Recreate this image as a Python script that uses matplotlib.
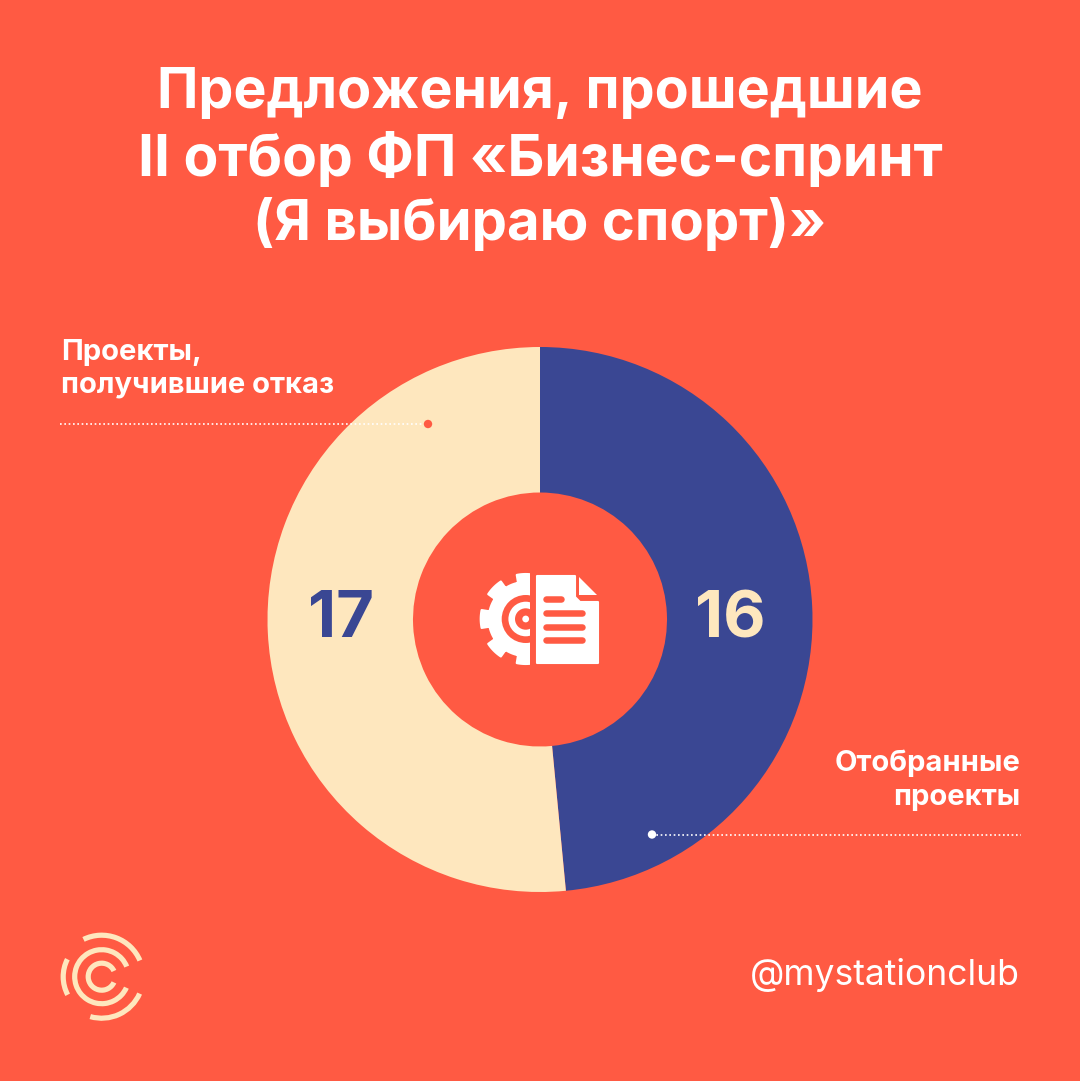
import numpy as np
import matplotlib
matplotlib.use("Agg")
import matplotlib.pyplot as plt
from matplotlib.patches import Circle, Polygon, Rectangle, Wedge

BG = "#ff5a43"
NAVY = "#3a4793"
CREAM = "#fee7be"
WHITE = "#ffffff"

labels = ["Отобранные проекты", "Проекты, получившие отказ"]
values = [16, 17]
title_lines = ["Предложения, прошедшие", "II отбор ФП «Бизнес-спринт", "(Я выбираю спорт)»"]

plt.rcParams["font.family"] = ["Inter", "Noto Sans", "DejaVu Sans"]

fig = plt.figure(figsize=(10.8, 10.81), dpi=100, facecolor=BG)
ax = fig.add_axes([0, 0, 1, 1])


def Y(py):
    # picture rows run downwards
    return 1081 - py


ax.pie(values, colors=[NAVY, CREAM], startangle=90, counterclock=False,
       center=(540, Y(619.5)), radius=272.5, wedgeprops=dict(width=145.5, linewidth=0),
       frame=True)
ax.set_xlim(0, 1080)
ax.set_ylim(0, 1081)
ax.set_aspect("auto")
ax.axis("off")

# title
for line, size, base in zip(title_lines, [40, 41, 40.5], [108, 176, 240]):
    ax.text(540, Y(base), line, color=WHITE, fontsize=size, fontweight="bold",
            ha="center", va="baseline")

# values
ax.text(341, Y(637), str(values[1]), color=NAVY, fontsize=47, fontweight="bold",
        ha="center", va="baseline")
ax.text(730, Y(637), str(values[0]), color=CREAM, fontsize=47, fontweight="bold",
        ha="center", va="baseline")

# callouts
ax.text(61, Y(360), "Проекты,", color=WHITE, fontsize=21, fontweight="bold", va="baseline")
ax.text(61, Y(393), "получившие отказ", color=WHITE, fontsize=21, fontweight="bold", va="baseline")
ax.text(1020, Y(771), "Отобранные", color=WHITE, fontsize=21, fontweight="bold", ha="right", va="baseline")
ax.text(1020, Y(805), "проекты", color=WHITE, fontsize=21, fontweight="bold", ha="right", va="baseline")

ax.plot([60, 428], [Y(424), Y(424)], color=WHITE, lw=1.2, ls=(0, (1, 1.6)), zorder=5)
ax.add_patch(Circle((428, Y(424)), 4.2, color=BG, lw=0, zorder=6))
ax.plot([652, 1021], [Y(834.5), Y(834.5)], color=WHITE, lw=1.2, ls=(0, (1, 1.6)), zorder=5)
ax.add_patch(Circle((652, Y(834.5)), 4.2, color=WHITE, lw=0, zorder=6))

ax.text(1020, Y(985), "@mystationclub", color=WHITE, fontsize=25.6, ha="right", va="baseline")

# logo
logo_c = (101.7, Y(976.7))
for r, a1, a2 in [(13.5, 25, 335), (27, 22, 336), (41.5, 23, 116), (38.5, 153, 208), (41.5, 254, 336)]:
    ax.add_patch(Wedge(logo_c, r + 2.6, a1, a2, width=5.2, color=CREAM, lw=0))

# icon: half gear
gear_c = (525.7, Y(619))
clip = Rectangle((470, Y(670)), 4 + 55.7, 100, transform=ax.transData)
angs = np.arange(0, 360, 0.5)
rad = np.full(angs.shape, 37.0)
for t in range(0, 360, 45):
    d = np.abs((angs - t + 180) % 360 - 180)
    rad[d < 12] = 45
gear = Polygon(np.c_[gear_c[0] + rad * np.cos(np.radians(angs)), gear_c[1] + rad * np.sin(np.radians(angs))],
               facecolor=WHITE, edgecolor=WHITE, lw=1.5, joinstyle="round", zorder=3)
ax.add_patch(gear)
gear.set_clip_path(clip)
for r, col in [(24, BG), (17.3, WHITE), (10.7, BG), (3.4, WHITE)]:
    c = Circle(gear_c, r, color=col, lw=0, zorder=3)
    ax.add_patch(c)
    c.set_clip_path(clip)

# icon: document
doc = [(537, 576), (575, 576), (575, 597), (580, 602), (598, 602), (598, 663), (537, 663)]
ax.add_patch(Polygon([(x, Y(y)) for x, y in doc], facecolor=WHITE, edgecolor=WHITE, lw=1.5,
                     joinstyle="round", zorder=3))
fold = [(578.5, 577), (578.5, 595), (597, 595)]
ax.add_patch(Polygon([(x, Y(y)) for x, y in fold], color=WHITE, lw=0, zorder=3))
for x0, x1, y in [(546, 561, 599), (546, 582, 613), (546, 582, 626.5), (546, 582, 640)]:
    ax.plot([x0, x1], [Y(y), Y(y)], color=BG, lw=6.5 * 0.72, solid_capstyle="round", zorder=4)

fig.savefig("out.png", dpi=100, facecolor=BG)
